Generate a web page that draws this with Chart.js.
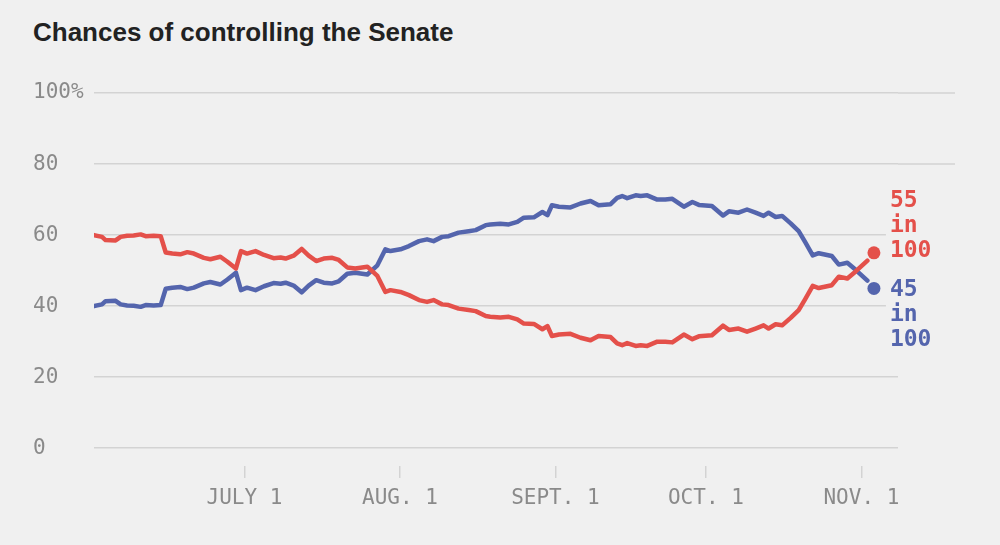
<!DOCTYPE html>
<html>
<head>
<meta charset="utf-8">
<script src="https://cdn.jsdelivr.net/npm/chart.js@4.4.1/dist/chart.umd.min.js"></script>
<style>
  html, body { margin: 0; padding: 0; background: #f0f0f0; }
  #wrap { position: relative; width: 1000px; height: 545px; overflow: hidden; }
  #title {
    position: absolute; left: 33px; top: 17px; margin: 0;
    font: bold 26px "Liberation Sans", Arial, sans-serif; line-height: 30px;
    color: #222;
  }
  canvas { position: absolute; left: 0; top: 0; }
</style>
</head>
<body>
<div id="wrap">
  <h1 id="title">Chances of controlling the Senate</h1>
  <canvas id="senateChart" width="1000" height="545"></canvas>
</div>
<script>
// --- Data (days counted from June 1) ---
const dayNumbers = [0, 1.6, 2.3, 4.3, 5.3, 6.6, 7.9, 9.3, 10.3, 11.9,
  13.3, 14.3, 15.6, 17.2, 18.6, 19.9, 21.9, 23.2, 25.2, 26.6,
  28.3, 29.3, 30.5, 32.2, 33.9, 35.8, 37.2, 38.2, 39.8, 41.4,
  42.8, 44.3, 45.8, 47.5, 48.8, 50.5, 52.1, 54.5, 56.5, 58.1,
  59.1, 61.1, 62.8, 64.8, 66.4, 67.7, 69.4, 70.7, 72.7, 74.7,
  76.1, 78.1, 79.0, 81.0, 82.7, 84.4, 85.7, 87.7, 89.4, 90.4,
  91.3, 92.7, 95.0, 97.0, 99.0, 100.6, 103.0, 104.3, 105.3, 106.3,
  108.0, 109.0, 110.3, 112.3, 113.9, 115.3, 117.6, 119.3, 120.6, 123.2,
  125.4, 126.6, 128.5, 130.2, 131.9, 133.5, 134.5, 135.9, 137.2, 138.9,
  140.5, 141.8, 143.3, 144.5, 147.1, 148.5, 150.2, 151.8, 154.2];

const redChance = [60.0, 59.5, 58.6, 58.5, 59.5, 59.8, 59.9, 60.2, 59.7, 59.8,
  59.7, 55.1, 54.8, 54.6, 55.2, 54.8, 53.6, 53.2, 53.9, 52.5,
  50.6, 55.5, 54.8, 55.5, 54.4, 53.5, 53.7, 53.4, 54.2, 56.1,
  54.2, 52.7, 53.4, 53.6, 53.0, 50.9, 50.6, 51.1, 48.5, 44.0,
  44.5, 44.0, 43.1, 41.7, 41.2, 41.7, 40.5, 40.3, 39.3, 38.9,
  38.6, 37.2, 37.0, 36.8, 37.0, 36.3, 35.1, 35.0, 33.5, 34.4,
  31.6, 32.0, 32.2, 31.1, 30.4, 31.6, 31.3, 29.5, 29.0, 29.6,
  28.8, 29.0, 28.8, 30.0, 30.0, 29.8, 32.0, 30.7, 31.5, 31.8,
  34.5, 33.3, 33.7, 32.8, 33.7, 34.6, 33.7, 34.9, 34.6, 36.7,
  38.9, 42.0, 45.7, 45.1, 45.9, 48.3, 47.8, 49.7, 52.8];

const blueChance = [40.0, 40.5, 41.4, 41.5, 40.5, 40.2, 40.1, 39.8, 40.3, 40.2,
  40.3, 44.9, 45.2, 45.4, 44.8, 45.2, 46.4, 46.8, 46.1, 47.5,
  49.4, 44.5, 45.2, 44.5, 45.6, 46.5, 46.3, 46.6, 45.8, 43.9,
  45.8, 47.3, 46.6, 46.4, 47.0, 49.1, 49.4, 48.9, 51.5, 56.0,
  55.5, 56.0, 56.9, 58.3, 58.8, 58.3, 59.5, 59.7, 60.7, 61.1,
  61.4, 62.8, 63.0, 63.2, 63.0, 63.7, 64.9, 65.0, 66.5, 65.6,
  68.4, 68.0, 67.8, 68.9, 69.6, 68.4, 68.7, 70.5, 71.0, 70.4,
  71.2, 71.0, 71.2, 70.0, 70.0, 70.2, 68.0, 69.3, 68.5, 68.2,
  65.5, 66.7, 66.3, 67.2, 66.3, 65.4, 66.3, 65.1, 65.4, 63.3,
  61.1, 58.0, 54.3, 54.9, 54.1, 51.7, 52.2, 50.3, 47.2];

const finalDay = 155.5;
const finalRed = 55;
const finalBlue = 45;

const xTickDays = [30, 61, 92, 122, 153];
const xTickLabels = ['JULY 1', 'AUG. 1', 'SEPT. 1', 'OCT. 1', 'NOV. 1'];
const yTickValues = [0, 20, 40, 60, 80, 100];
const extendedGridValues = [80, 100];

const RED = '#e4504a';
const BLUE = '#5465ad';
const GRID = '#d3d3d3';
const BG = '#f0f0f0';
const MONO = '"DejaVu Sans Mono", monospace';

const toPoints = (days, vals) => days.map((d, i) => ({ x: d, y: vals[i] }));

// grid lines at top reach past the plot, end labels sit on a bg box
const extrasPlugin = {
    id: 'extras',
    beforeDatasetsDraw(chart) {
        const { ctx, chartArea, scales } = chart;
        ctx.save();
        ctx.strokeStyle = GRID;
        ctx.lineWidth = 1.5;
        extendedGridValues.forEach(v => {
            const y = scales.y.getPixelForValue(v);
            ctx.beginPath();
            ctx.moveTo(chartArea.right, y);
            ctx.lineTo(955, y);
            ctx.stroke();
        });
        ctx.restore();
    },
    afterDatasetsDraw(chart) {
        const { ctx, scales } = chart;
        const x = scales.x.getPixelForValue(finalDay) + 16;
        const lh = 25;
        const blocks = [
            { lines: [String(finalRed), 'in', '100'], color: RED, top: scales.y.getPixelForValue(finalRed) - 2 * lh - 2 },
            { lines: [String(finalBlue), 'in', '100'], color: BLUE, top: scales.y.getPixelForValue(finalBlue) + 2 }
        ];
        ctx.save();
        ctx.font = 'bold 23px ' + MONO;
        ctx.textBaseline = 'middle';
        ctx.textAlign = 'left';
        blocks.forEach(b => {
            ctx.fillStyle = BG;
            ctx.fillRect(x - 4, b.top - 12, 70, lh * 2 + 24);
            ctx.fillStyle = b.color;
            b.lines.forEach((t, i) => ctx.fillText(t, x, b.top + i * lh));
        });
        ctx.restore();
    }
};

function initChart() {
    const ctx = document.getElementById('senateChart').getContext('2d');
    new Chart(ctx, {
        type: 'line',
        data: {
            datasets: [
                {
                    data: toPoints(dayNumbers, redChance),
                    borderColor: RED, borderWidth: 4.5, pointRadius: 0,
                    tension: 0, borderJoinStyle: 'round', borderCapStyle: 'round'
                },
                {
                    data: toPoints(dayNumbers, blueChance),
                    borderColor: BLUE, borderWidth: 4.5, pointRadius: 0,
                    tension: 0, borderJoinStyle: 'round', borderCapStyle: 'round'
                },
                {
                    data: [{ x: finalDay, y: finalRed }],
                    showLine: false, pointRadius: 6.5, pointBorderWidth: 0,
                    pointBackgroundColor: RED, borderColor: RED
                },
                {
                    data: [{ x: finalDay, y: finalBlue }],
                    showLine: false, pointRadius: 6.5, pointBorderWidth: 0,
                    pointBackgroundColor: BLUE, borderColor: BLUE
                }
            ]
        },
        options: {
            responsive: false,
            animation: false,
            layout: { padding: { left: 33, right: 102, top: 93, bottom: 0 } },
            plugins: { legend: { display: false }, tooltip: { enabled: false } },
            scales: {
                x: {
                    type: 'linear',
                    min: 0,
                    max: 160.3,
                    afterBuildTicks: s => { s.ticks = xTickDays.map(v => ({ value: v })); },
                    afterFit: s => { s.height = 79; },
                    grid: { drawOnChartArea: false, drawTicks: true, tickLength: 12, color: GRID, lineWidth: 1.5 },
                    border: { display: false },
                    ticks: {
                        color: '#8a8a8a',
                        font: { family: MONO, size: 21 },
                        padding: 8,
                        maxRotation: 0,
                        autoSkip: false,
                        callback: v => xTickLabels[xTickDays.indexOf(v)]
                    }
                },
                y: {
                    min: -5,
                    max: 100,
                    afterBuildTicks: s => { s.ticks = yTickValues.map(v => ({ value: v })); },
                    afterFit: s => { s.width = 61; },
                    grid: { color: GRID, lineWidth: 1.5, drawTicks: false },
                    border: { display: false },
                    ticks: {
                        color: '#8a8a8a',
                        font: { family: MONO, size: 21 },
                        crossAlign: 'far',
                        callback: v => (v === 100 ? '100%' : String(v))
                    }
                }
            }
        },
        plugins: [extrasPlugin]
    });
}

document.addEventListener('DOMContentLoaded', () => {
    try {
        initChart();
    } catch (e) {
        console.error('Chart init failed:', e);
    }
});
</script>
</body>
</html>
